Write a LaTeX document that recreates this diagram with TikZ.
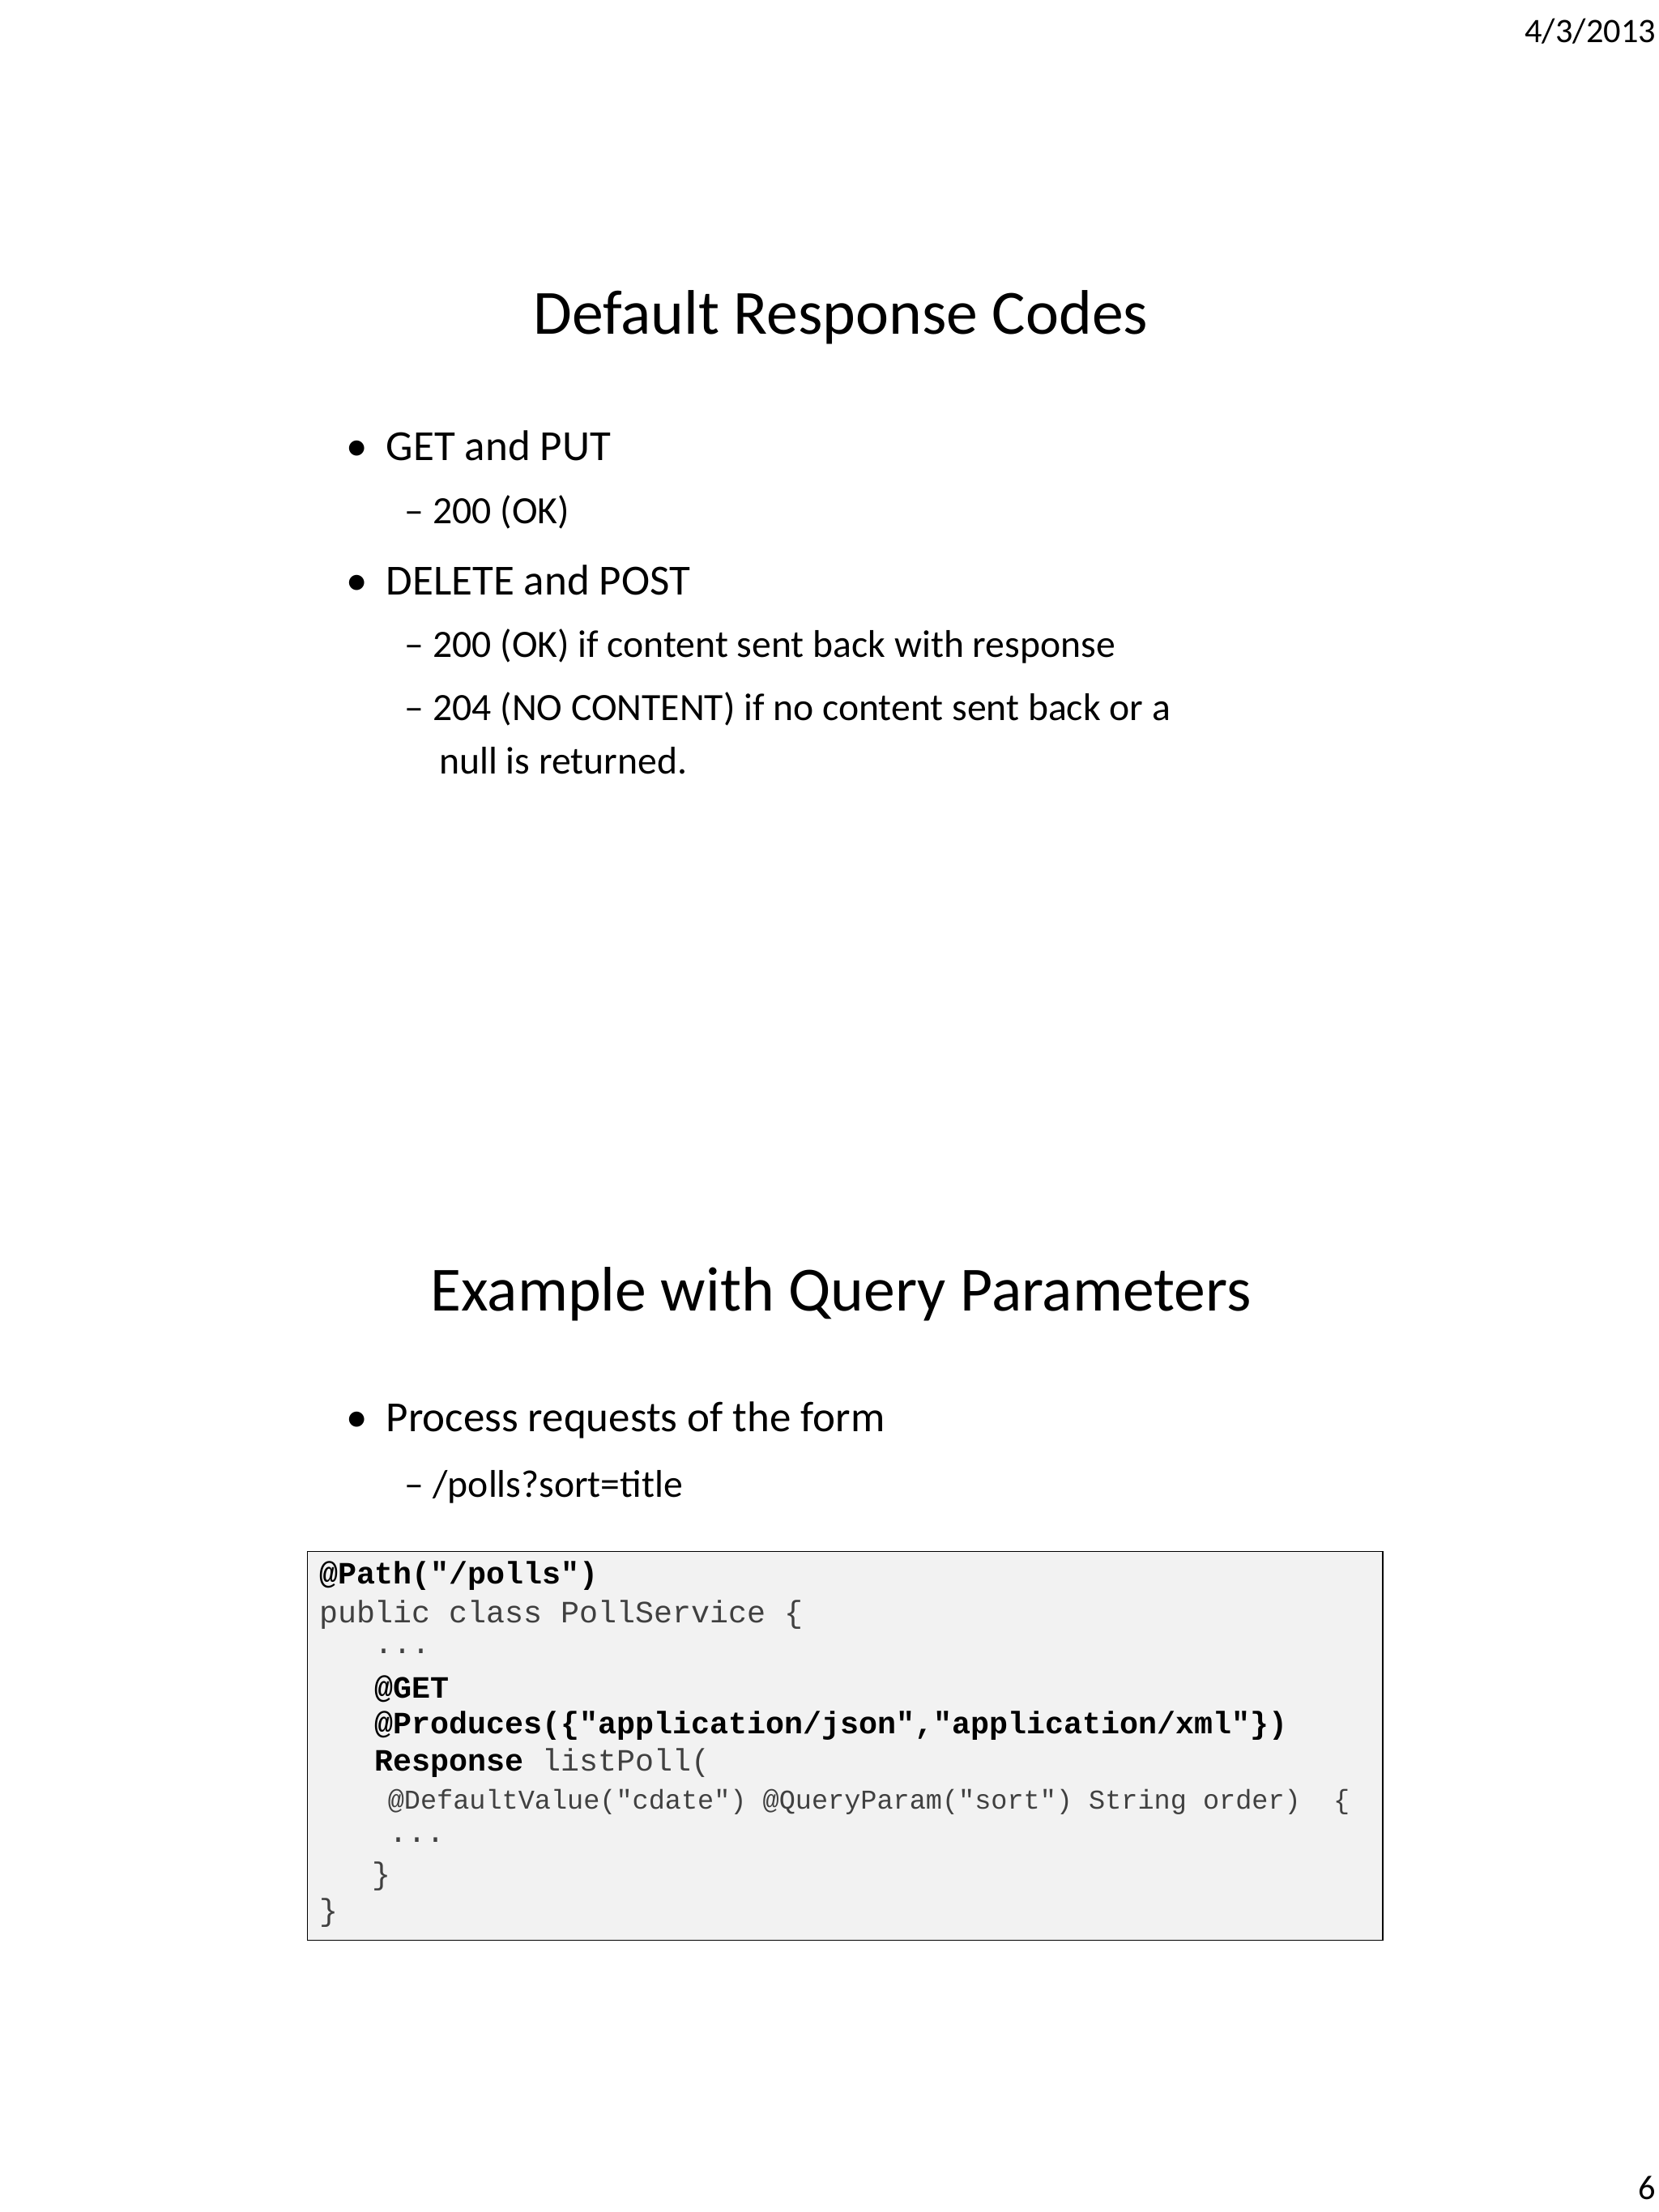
\documentclass[tikz,border=0pt]{standalone}
\usepackage{fontspec}
\setmainfont{Carlito}
\setmonofont{Liberation Mono}
\begin{document}
\begin{tikzpicture}[x=1pt,y=-1pt,
  t/.style={anchor=west,inner sep=0pt,font=\fontsize{30}{36}\selectfont},
  s/.style={anchor=west,inner sep=0pt,font=\fontsize{27}{32}\selectfont},
  c/.style={anchor=west,inner sep=0pt,font=\ttfamily\fontsize{21.7}{26}\selectfont},
  cs/.style={anchor=west,inner sep=0pt,font=\ttfamily\fontsize{19}{24}\selectfont}]
\useasboundingbox[fill=white] (0,0) rectangle (1160,1547);
\node[anchor=east,inner sep=0pt,font=\fontsize{24}{28}\selectfont] (date) at (1158,22) {4/3/2013};
\node[inner sep=0pt,font=\fontsize{44}{50}\selectfont] (t1) at (588,222) {Default Response Codes};
\node[t] (b1) at (242,312) {•\hspace{13pt}GET and PUT};
\node[s] (s1) at (283,358) {– 200 (OK)};
\node[t] (b2) at (242,406) {•\hspace{13pt}DELETE and POST};
\node[s] (s2) at (283,452) {– 200 (OK) if content sent back with response};
\node[s] (s3) at (283,496) {– 204 (NO CONTENT) if no content sent back or a};
\node[s] (s4) at (307,532) {null is returned.};
\node[inner sep=0pt,font=\fontsize{44}{50}\selectfont] (t2) at (588,905) {Example with Query Parameters};
\node[t] (b3) at (242,993) {•\hspace{13pt}Process requests of the form};
\node[s] (s5) at (283,1040) {– /polls?sort=title};
\draw[fill=black!5,line width=0.8pt] (215,1085) rectangle (967,1357);
\node[c] (c1) at (223,1102) {\textbf{@Path("/polls")}};
\node[c,text=black!75] (c2) at (223,1129) {public class PollService \{};
\node[c,text=black!75] (c3) at (262,1155) {...};
\node[c] (c4) at (262,1181) {\textbf{@GET}};
\node[c] (c5) at (262,1207) {\textbf{@Produces(\{"application/json","application/xml"\})}};
\node[c] (c6) at (262,1233) {\textbf{Response} \textcolor{black!75}{listPoll(}};
\node[cs,text=black!75] (c7) at (271,1260) {@DefaultValue("cdate") @QueryParam("sort") String order)~~\{};
\node[c,text=black!75] (c8) at (272,1287) {...};
\node[c,text=black!75] (c9) at (260,1312) {\}};
\node[c,text=black!75] (c10) at (223,1338) {\}};
\node[anchor=east,inner sep=0pt,font=\fontsize{24}{28}\selectfont] (pg) at (1158,1530) {6};
\end{tikzpicture}
\end{document}
